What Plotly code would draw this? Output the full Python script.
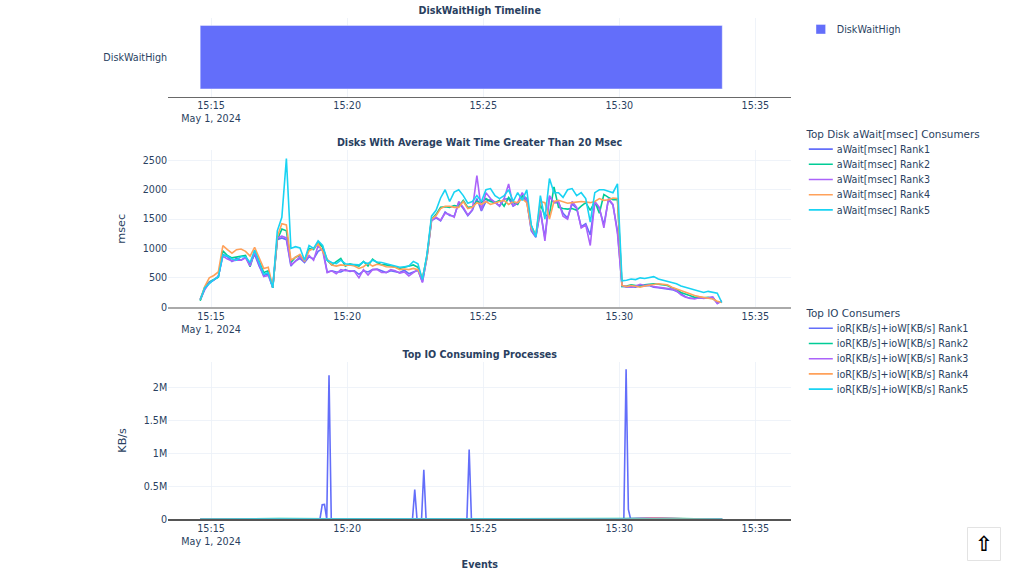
import pandas as pd
import plotly.graph_objects as go
from plotly.subplots import make_subplots

# sampled every 10s
await_times = pd.date_range("2024-05-01 15:14:36", periods=116, freq="10s")

await_rank1 = [120, 300, 410, 460, 520, 900, 860, 780, 830, 800, 850, 740, 900, 700, 540, 570, 330, 1150, 1180, 1150,
               700, 790, 830, 760, 860, 820, 950, 1000, 600, 620, 600, 600, 640, 610, 620, 560, 620, 600, 640, 650,
               620, 590, 620, 610, 590, 630, 570, 600, 630, 430, 850, 1480, 1520, 1470, 1620, 1560, 1550, 1780, 1680, 1560,
               1650, 1850, 1640, 1800, 1830, 1790, 1720, 1840, 1850, 1720, 1770, 1880, 1810, 1300, 1190, 1640, 1180, 1880, 1780, 1780,
               1600, 1520, 1760, 1680, 1370, 1420, 1230, 1780, 1680, 1400, 1830, 1740, 1300, 360, 340, 350, 340, 370, 360, 370,
               340, 330, 320, 310, 300, 270, 220, 180, 150, 150, 160, 150, 160, 170, 70, 100]
await_rank2 = [110, 340, 430, 470, 510, 960, 880, 840, 850, 870, 880, 690, 950, 780, 590, 620, 330, 1150, 1330, 1300,
               760, 850, 880, 790, 1000, 980, 1100, 1020, 800, 720, 770, 830, 700, 740, 720, 700, 780, 700, 820, 760,
               720, 720, 700, 680, 660, 680, 700, 720, 680, 480, 880, 1500, 1580, 1700, 1710, 1700, 1730, 1720, 1820, 1700,
               1710, 1800, 1780, 1850, 1800, 1780, 1820, 1720, 1870, 1780, 1750, 1900, 1850, 1380, 1220, 1750, 1560, 1570, 2050, 1700,
               1680, 1670, 1680, 1650, 1720, 1780, 1650, 1800, 1600, 1920, 1870, 1830, 1830, 350, 360, 380, 370, 360, 380, 390,
               400, 390, 380, 370, 330, 300, 250, 220, 190, 170, 170, 160, 170, 150, 80, 90]
await_rank3 = [140, 310, 420, 460, 530, 870, 820, 790, 800, 800, 840, 700, 940, 720, 520, 540, 340, 1180, 1210, 1180,
               720, 780, 860, 780, 880, 800, 1050, 960, 590, 620, 570, 640, 620, 620, 610, 500, 640, 550, 640, 640,
               590, 590, 640, 620, 580, 600, 530, 590, 640, 420, 860, 1470, 1530, 1480, 1600, 1580, 1530, 1800, 1700, 1570,
               1660, 2240, 1650, 1950, 1850, 1780, 1730, 1850, 2100, 1730, 1780, 1950, 1820, 1320, 1200, 1650, 1130, 1900, 1780, 1800,
               1550, 1500, 1800, 1700, 1350, 1400, 1050, 1800, 1700, 1350, 1850, 1750, 1250, 370, 350, 340, 360, 390, 370, 380,
               350, 340, 330, 320, 310, 280, 210, 170, 150, 140, 160, 150, 160, 170, 60, 110]
await_rank4 = [130, 350, 500, 540, 600, 1050, 980, 920, 980, 990, 950, 870, 1020, 830, 660, 680, 340, 1200, 1420, 1400,
               800, 850, 900, 780, 960, 1000, 1080, 950, 820, 720, 700, 720, 710, 720, 700, 660, 690, 750, 700, 730,
               720, 690, 680, 680, 640, 650, 640, 660, 640, 500, 850, 1500, 1560, 1680, 1720, 1720, 1700, 1700, 1800, 1680,
               1700, 1780, 1750, 1800, 1750, 1780, 1800, 1820, 1750, 1800, 1780, 1850, 1780, 1350, 1230, 1800, 1780, 1500, 1800, 1820,
               1800, 1770, 1780, 1790, 1800, 1790, 1780, 1800, 1850, 1820, 1830, 1860, 1850, 370, 350, 370, 350, 340, 360, 370,
               390, 400, 390, 380, 340, 310, 280, 260, 220, 200, 180, 170, 150, 140, 100, 80]
await_rank5 = [130, 330, 400, 470, 520, 890, 870, 820, 800, 860, 860, 760, 970, 760, 560, 590, 330, 1300, 1530, 2530,
               1000, 1030, 1010, 800, 1050, 1000, 1130, 1050, 800, 760, 740, 800, 740, 730, 720, 720, 770, 740, 800, 770,
               760, 740, 710, 690, 680, 690, 700, 780, 740, 470, 900, 1550, 1650, 1860, 2000, 1800, 1960, 2000, 1900, 1770,
               1800, 1900, 1800, 2000, 2020, 1900, 1850, 1900, 2000, 1800, 1950, 1820, 2000, 1400, 1200, 1900, 1500, 2190, 1950, 1950,
               1870, 2000, 2020, 1900, 1950, 1850, 1450, 1950, 2000, 2000, 1980, 1950, 2100, 450, 460, 480, 470, 500, 490, 510,
               520, 480, 460, 440, 420, 400, 360, 340, 320, 290, 280, 250, 270, 260, 240, 80]

io_rank1_times = ["15:14:36", "15:19:00", "15:19:05", "15:19:10", "15:19:15", "15:19:20", "15:19:25", "15:22:24", "15:22:29",
                  "15:22:34", "15:22:44", "15:22:49", "15:22:54", "15:24:24", "15:24:29", "15:24:34", "15:30:10", "15:30:15",
                  "15:30:20", "15:30:25", "15:33:47"]
io_rank1 = [0, 0, 220000, 225000, 0, 2190000, 0, 0, 450000, 0, 0, 750000, 0, 0, 1060000, 0, 0, 2280000, 150000, 0, 0]
io_other_times = ["15:14:36", "15:17:30", "15:19:20", "15:22:30", "15:26:00", "15:30:15", "15:31:15", "15:32:20", "15:33:47"]
io_rank2 = [0, 9000, 5000, 6000, 3000, 8000, 16000, 7000, 0]
io_rank3 = [0, 7000, 4000, 5000, 2000, 6000, 22000, 6000, 0]
io_rank4 = [0, 5000, 3000, 3000, 2000, 4000, 12000, 5000, 0]
io_rank5 = [0, 3000, 2000, 2000, 1000, 2000, 8000, 3000, 0]

event_start = "2024-05-01 15:14:36"
event_end = "2024-05-01 15:33:47"

colors = ["#636efa", "#00cc96", "#ab63fa", "#FFA15A", "#19d3f3"]
font_name = "DejaVu Sans"
x_range = ["2024-05-01 15:13:25", "2024-05-01 15:36:19"]

fig = make_subplots(rows=4, cols=1, subplot_titles=(
    "<b>DiskWaitHigh Timeline</b>",
    "<b>Disks With Average Wait Time Greater Than 20 Msec</b>",
    "<b>Top IO Consuming Processes</b>",
    "<b>Events</b>",
))

duration = (pd.Timestamp(event_end) - pd.Timestamp(event_start)).total_seconds() * 1000
fig.add_trace(go.Bar(y=["DiskWaitHigh"], x=[duration], base=[event_start], orientation="h",
                     name="DiskWaitHigh", marker_color=colors[0], legend="legend", showlegend=True), row=1, col=1)

for i, values in enumerate([await_rank1, await_rank2, await_rank3, await_rank4, await_rank5]):
    fig.add_trace(go.Scatter(x=await_times, y=values, mode="lines", name=f"aWait[msec] Rank{i + 1}",
                             line=dict(color=colors[i]), legend="legend2"), row=2, col=1)

io_dates = ["2024-05-01 " + t for t in io_rank1_times]
other_dates = ["2024-05-01 " + t for t in io_other_times]
for i, values in enumerate([io_rank1, io_rank2, io_rank3, io_rank4, io_rank5]):
    fig.add_trace(go.Scatter(x=io_dates if i == 0 else other_dates, y=values, mode="lines",
                             name=f"ioR[KB/s]+ioW[KB/s] Rank{i + 1}", cliponaxis=False,
                             line=dict(color=colors[i]), legend="legend3"), row=3, col=1)

# the page was shot at 80%, so lay out at 1280 wide and scale down after plotting
H = 988
top, bottom = 22, 76
left, right = 210, 291
span = H - top - bottom
plot_w = 1280 - left - right


def dom(y0, y1):
    return [(H - bottom - y1) / span, (H - bottom - y0) / span]


rows = [(22, 121), (188, 384), (452, 649), (715, 912)]
for r, (y0, y1) in enumerate(rows, start=1):
    fig.update_yaxes(domain=dom(y0, y1), row=r, col=1)
    fig.update_xaxes(type="date", range=x_range, row=r, col=1)
    fig.layout.annotations[r - 1].y = dom(y0, y1)[1]
    fig.layout.annotations[r - 1].font = dict(size=12, family=font_name, color="#2a3f5f")

fig.update_xaxes(showline=True, linecolor="#444", linewidth=1, row=1, col=1)
fig.update_xaxes(showline=True, linecolor="#aaa", linewidth=2, row=2, col=1)
fig.update_xaxes(showline=True, linecolor="#555", linewidth=2, row=3, col=1)
fig.update_yaxes(range=[0, 2670], title_text="msec", title_font_size=14, title_standoff=18, row=2, col=1)
fig.update_yaxes(range=[0, 2397000], title_text="KB/s", title_font_size=14, title_standoff=18, row=3, col=1)
fig.update_yaxes(range=[0, 1], showticklabels=False, row=4, col=1)

# back-to-top button of the page
fig.add_annotation(xref="paper", yref="paper", x=(1230 - left) / plot_w, y=(H - bottom - 680) / span,
                   xanchor="center", yanchor="middle", text="<b>⇧</b>", showarrow=False, width=38, height=38,
                   bgcolor="white", bordercolor="#ddd", borderwidth=1,
                   font=dict(size=26, color="black", family=font_name))

legend_x = (1006 - left) / plot_w
fig.update_layout(
    template="plotly_white",
    width=1280,
    height=H,
    margin=dict(l=left, r=right, t=top, b=bottom),
    font=dict(family=font_name, size=12),
    bargap=0.2,
    legend=dict(x=legend_x, y=dom(22, 22)[1], yanchor="top"),
    legend2=dict(x=legend_x, y=dom(155, 155)[1], yanchor="top",
                 title=dict(text="Top Disk aWait[msec] Consumers", font_size=13)),
    legend3=dict(x=legend_x, y=dom(379, 379)[1], yanchor="top",
                 title=dict(text="Top IO Consumers", font_size=13)),
)

shrink = ("document.body.style.margin='0';document.body.style.width='1280px';"
          "document.documentElement.style.overflow='hidden';"
          "document.body.style.transformOrigin='0 0';document.body.style.transform='scale(0.8)';")
fig.write_html("out.html", post_script=shrink, config=dict(displayModeBar=False))
